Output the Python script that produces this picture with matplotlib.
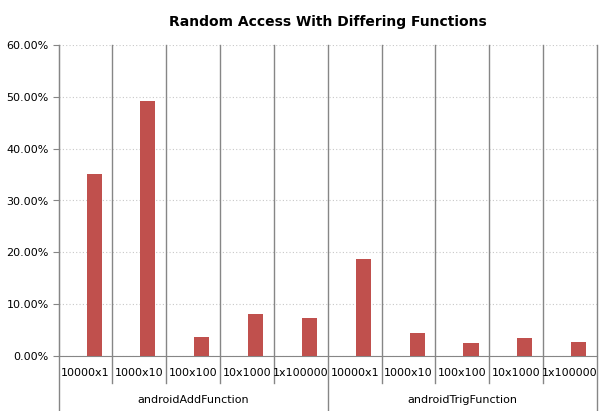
import numpy as np
import matplotlib
matplotlib.use("Agg")
import matplotlib.pyplot as plt
from matplotlib.ticker import FuncFormatter

# values (fraction, shown as percent)
groups = ["androidAddFunction", "androidTrigFunction"]
sizes = ["10000x1", "1000x10", "100x100", "10x1000", "1x100000"]
add_vals = [0.351, 0.492, 0.037, 0.081, 0.073]
trig_vals = [0.187, 0.044, 0.025, 0.035, 0.027]

values = add_vals + trig_vals
labels = sizes + sizes
n = len(values)

fig = plt.figure(figsize=(6.06, 4.11), dpi=100)
ax = fig.add_axes([58.5 / 606, (411 - 356) / 411, (597 - 58.5) / 606, 311 / 411])

grey = "#868686"
x = np.arange(n)
# Excel leaves room for an empty series, so the bars sit right of centre
ax.bar(x + 0.16, values, width=0.28, color="#C0504D", zorder=3)

ax.set_xlim(-0.5, n - 0.5)
ax.set_ylim(0, 0.6)
ax.set_yticks(np.arange(0, 0.61, 0.1))
ax.yaxis.set_major_formatter(FuncFormatter(lambda v, p: f"{v * 100:.2f}%"))
ax.tick_params(axis="y", length=4, color=grey, labelsize=8, pad=3)
ax.set_xticks([])
ax.grid(axis="y", color="#c8c8c8", linestyle=(0, (1, 2)), linewidth=0.8, zorder=0)

for s in ["top", "right"]:
    ax.spines[s].set_visible(False)
ax.spines["left"].set_color(grey)
ax.spines["bottom"].set_color(grey)

# category separators, running down through the label rows
trans = ax.get_xaxis_transform()
for b in np.arange(-0.5, n, 1.0):
    is_group = abs(((b + 0.5) % len(sizes))) < 1e-9
    low = -0.174 if is_group else -0.087
    ax.plot([b, b], [1, low], color=grey, linewidth=1, transform=trans,
            clip_on=False, zorder=2)

for i, lab in enumerate(labels):
    ax.text(i, -0.055, lab, transform=trans, ha="center", va="center", fontsize=8)

for g, name in enumerate(groups):
    cx = g * len(sizes) + (len(sizes) - 1) / 2
    ax.text(cx, -0.14, name, transform=trans, ha="center", va="center", fontsize=8)

fig.text(328 / 606, 1 - 22 / 411, "Random Access With Differing Functions",
         ha="center", va="center", fontsize=10, fontweight="bold")

fig.savefig("out.png", dpi=100)
